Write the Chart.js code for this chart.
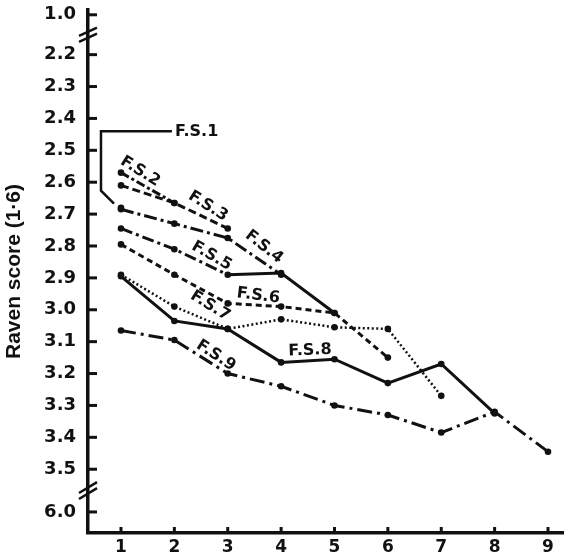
<!DOCTYPE html>
<html>
<head>
<meta charset="utf-8">
<script src="https://cdn.jsdelivr.net/npm/chart.js@4.4.1/dist/chart.umd.min.js"></script>
<style>
  html, body { margin: 0; padding: 0; background: #fff; }
  canvas { display: block; }
</style>
</head>
<body>
<canvas id="raven" width="567" height="553"></canvas>
<script>
// study years on the x axis
const YEARS = [1, 2, 3, 4, 5, 6, 7, 8, 9];
// y axis tick labels (1.0 and 6.0 sit past the axis breaks)
const Y_TICKS = [1.0, 2.2, 2.3, 2.4, 2.5, 2.6, 2.7, 2.8, 2.9, 3.0, 3.1, 3.2, 3.3, 3.4, 3.5, 6.0];
const NAMES = ['F.S.1', 'F.S.2', 'F.S.3', 'F.S.4', 'F.S.5', 'F.S.6', 'F.S.7', 'F.S.8', 'F.S.9'];

// Raven score per group, starting at year 1
const FS1 = [2.68];
const FS2 = [2.57, 2.665];
const FS3 = [2.61, 2.665, 2.745];
const FS4 = [2.685, 2.73, 2.775, 2.89];
const FS5 = [2.745, 2.81, 2.89, 2.885, 3.01];
const FS6 = [2.795, 2.89, 2.98, 2.99, 3.01, 3.15];
const FS7 = [2.89, 2.99, 3.06, 3.03, 3.055, 3.06, 3.27];
const FS8 = [2.895, 3.035, 3.06, 3.165, 3.155, 3.23, 3.17, 3.325];
const FS9 = [3.065, 3.095, 3.2, 3.24, 3.3, 3.33, 3.385, 3.32, 3.445];

// broken axis: 1.0 and 6.0 are squeezed next to the real range
const toAxis = v => v === 1.0 ? 2.075 : v === 6.0 ? 3.634 : v;
const fromAxis = v => Math.abs(v - 2.075) < 1e-6 ? 1.0 : Math.abs(v - 3.634) < 1e-6 ? 6.0 : v;

const INK = '#111';
const TICK_FONT = {family: 'DejaVu Sans', weight: 'bold', size: 18};

const STYLES = [
  {dash: [], width: 3},
  {dash: [9, 3, 3, 3], width: 3},
  {dash: [8, 4], width: 3},
  {dash: [13, 4, 3, 4], width: 3},
  {dash: [12, 4, 3, 4], width: 3, solidFrom: 2},
  {dash: [6, 4], width: 3},
  {dash: [2, 2.5], width: 2.5},
  {dash: [], width: 3},
  {dash: [15, 5, 3, 5], width: 3}
];

const series = [FS1, FS2, FS3, FS4, FS5, FS6, FS7, FS8, FS9];
const datasets = series.map((vals, i) => {
  const st = STYLES[i];
  return {
    label: NAMES[i],
    data: vals.map((v, j) => ({x: YEARS[j], y: v})),
    borderColor: INK,
    backgroundColor: INK,
    borderWidth: st.width,
    borderDash: st.dash,
    pointRadius: 3.3,
    pointBorderWidth: 0,
    pointBackgroundColor: INK,
    tension: 0,
    segment: st.solidFrom !== undefined ? {
      borderDash: c => c.p0DataIndex >= st.solidFrom ? [] : st.dash
    } : undefined
  };
});

// label anchors in data units: [text, year, score, rotation deg]
const TAGS = [
  ['F.S.2', 1.36, 2.566, 32],
  ['F.S.3', 2.63, 2.675, 32],
  ['F.S.4', 3.68, 2.803, 38],
  ['F.S.5', 2.70, 2.831, 30],
  ['F.S.6', 3.57, 2.956, 7],
  ['F.S.7', 2.67, 2.988, 32],
  ['F.S.8', 4.54, 3.128, -2],
  ['F.S.9', 2.78, 3.144, 33]
];

const decor = {
  id: 'decor',
  afterDatasetsDraw(chart) {
    const {ctx, chartArea: a, scales: {x, y}} = chart;
    ctx.save();
    ctx.strokeStyle = INK;
    ctx.fillStyle = INK;
    ctx.lineCap = 'butt';

    // inside tick marks
    ctx.lineWidth = 3;
    y.ticks.forEach(t => {
      const py = y.getPixelForValue(t.value);
      ctx.beginPath(); ctx.moveTo(a.left, py); ctx.lineTo(a.left + 9, py); ctx.stroke();
    });
    x.ticks.forEach(t => {
      const px = x.getPixelForValue(t.value);
      ctx.beginPath(); ctx.moveTo(px, a.bottom); ctx.lineTo(px, a.bottom - 6); ctx.stroke();
    });

    // axis break marks
    ctx.lineWidth = 2.5;
    const brk = (val, slope) => {
      const cy = y.getPixelForValue(val);
      [-3, 3].forEach(off => {
        ctx.beginPath();
        ctx.moveTo(a.left - 9, cy + off + 9 * slope);
        ctx.lineTo(a.left + 9, cy + off - 9 * slope);
        ctx.stroke();
      });
    };
    brk((toAxis(1.0) + 2.2) / 2, 0.45);
    brk((3.5 + toAxis(6.0)) / 2, 0.6);

    // F.S.1 leader to its single point
    const p1x = x.getPixelForValue(YEARS[0]);
    const p1y = y.getPixelForValue(FS1[0]);
    const ly = y.getPixelForValue(2.44);
    const tx = x.getPixelForValue(2.01);
    ctx.lineWidth = 2.5;
    ctx.beginPath();
    ctx.moveTo(tx - 3, ly);
    ctx.lineTo(p1x - 20, ly);
    ctx.lineTo(p1x - 20, p1y - 17);
    ctx.lineTo(p1x - 7, p1y - 4);
    ctx.stroke();

    ctx.font = 'bold 16px "DejaVu Sans"';
    ctx.textBaseline = 'middle';
    ctx.textAlign = 'left';
    ctx.fillText(NAMES[0], tx, ly + 1);

    ctx.textAlign = 'center';
    TAGS.forEach(([txt, xv, yv, rot]) => {
      ctx.save();
      ctx.translate(x.getPixelForValue(xv), y.getPixelForValue(yv));
      ctx.rotate(rot * Math.PI / 180);
      ctx.fillText(txt, 0, 0);
      ctx.restore();
    });
    ctx.restore();
  }
};

new Chart(document.getElementById('raven'), {
  type: 'line',
  data: {datasets},
  plugins: [decor],
  options: {
    responsive: false,
    animation: false,
    devicePixelRatio: 1,
    layout: {padding: {top: 10, right: 4, left: 0, bottom: 0}},
    plugins: {legend: {display: false}, tooltip: {enabled: false}},
    scales: {
      x: {
        type: 'linear',
        min: 0.382,
        max: 9.281,
        afterBuildTicks: s => { s.ticks = YEARS.map(v => ({value: v})); },
        afterFit: s => { s.height = 20; s.paddingLeft = 0; s.paddingRight = 0; },
        grid: {display: false, drawTicks: false},
        border: {color: INK, width: 3.5},
        ticks: {color: INK, font: {family: 'DejaVu Sans', weight: 'bold', size: 17}, padding: 4, maxRotation: 0}
      },
      y: {
        type: 'linear',
        reverse: true,
        min: 2.06,
        max: 3.70,
        afterBuildTicks: s => { s.ticks = Y_TICKS.map(v => ({value: toAxis(v)})); },
        afterFit: s => { s.width = 88; s.paddingTop = 0; s.paddingBottom = 0; },
        grid: {display: false, drawTicks: false},
        border: {color: INK, width: 3.5},
        ticks: {
          color: INK,
          font: TICK_FONT,
          padding: 12,
          callback: v => fromAxis(v).toFixed(1)
        },
        title: {
          display: true,
          text: 'Raven score (1·6)',
          color: INK,
          font: {family: '"Liberation Sans Narrow", "Liberation Sans", sans-serif', weight: 'bold', size: 21},
          padding: {top: 2, bottom: 0}
        }
      }
    }
  }
});
</script>
</body>
</html>
